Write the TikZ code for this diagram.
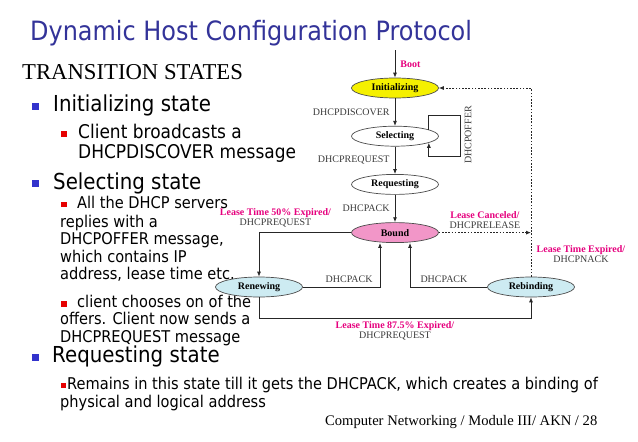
\documentclass[tikz,border=0pt]{standalone}
\usepackage{fontspec}
\setmainfont{Liberation Serif}
\newfontfamily\slidefont[FakeStretch=0.9]{DejaVu Sans}
\usetikzlibrary{shapes.geometric, arrows.meta, positioning, calc}
\definecolor{titleblue}{RGB}{51,51,153}
\definecolor{bulletblue}{RGB}{51,51,204}
\definecolor{bulletred}{RGB}{230,0,0}
\definecolor{leasepink}{RGB}{230,0,126}
\definecolor{initfill}{RGB}{245,240,0}
\definecolor{boundfill}{RGB}{242,150,200}
\definecolor{renewfill}{RGB}{205,235,242}
\definecolor{msggray}{RGB}{60,60,60}
\newcommand{\leasetxt}[1]{{\color{leasepink}\bfseries #1}}
\tikzset{
  state/.style   = {ellipse, draw=black!70, line width=0.7pt,
                    minimum width=87pt, minimum height=20pt, inner sep=0pt,
                    font=\fontsize{10}{10}\selectfont\bfseries},
  msg/.style     = {inner sep=0pt, text=msggray, font=\fontsize{10}{10}\selectfont},
  evt/.style     = {msg, align=center},
  arrow/.style   = {-{Latex[length=5pt,width=4pt]}, line width=0.8pt, draw=black!85},
  darrow/.style  = {arrow, dash pattern=on 1.6pt off 1.6pt},
  head/.style    = {anchor=base west, inner sep=0pt, font=\slidefont\fontsize{22}{26}\selectfont},
  body/.style    = {anchor=base west, inner sep=0pt, font=\slidefont\fontsize{18.9}{22}\selectfont},
  sbody/.style   = {body, font=\slidefont\fontsize{16.2}{19}\selectfont},
  bbullet/.style = {rectangle, fill=bulletblue, minimum size=7pt, inner sep=0pt},
  rbullet/.style = {rectangle, fill=bulletred, minimum size=5.5pt, inner sep=0pt},
}

\begin{document}
\begin{tikzpicture}[x=1pt, y=-1pt, node distance=27.5pt]
  \useasboundingbox[fill=white] (0,0) rectangle (638,442);

  % title and heading
  \node[anchor=base west, inner sep=0pt, text=titleblue,
        font=\slidefont\fontsize{26.6}{32}\selectfont] (title) at (30,40)
        {Dynamic Host Configuration Protocol};
  \node[anchor=base west, inner sep=0pt, font=\fontsize{22.7}{26}\selectfont]
        (trans) at (22,79) {TRANSITION STATES};

  % bullet list
  \node[bbullet] (b-init) at (35.5,106) {};
  \node[head] (h-init) at (53,111) {Initializing state};
  \node[rbullet] (r-bcast) at (64,134) {};
  \node[body] (t-bcast) at (78,138) {Client broadcasts a};
  \node[body] (t-disc) at (78,158) {DHCPDISCOVER message};

  \node[bbullet] (b-sel) at (35.5,183.5) {};
  \node[head] (h-sel) at (53,189) {Selecting state};
  \node[rbullet] (r-all) at (64,204.5) {};
  \node[sbody] (t-all) at (77,208) {All the DHCP servers};
  \foreach \y/\t in {227/replies with a, 244/{DHCPOFFER message,},
                     262/which contains IP, 279/{address, lease time etc.}}
    \node[sbody] (t-\y) at (60,\y) {\t};
  \node[rbullet] (r-choose) at (64,304) {};
  \node[sbody] (t-choose) at (77,307) {client chooses on of the};
  \node[sbody] (t-offers) at (60,324) {offers. Client now sends a};
  \node[sbody] (t-reqmsg) at (60,342) {DHCPREQUEST message};

  \node[bbullet] (b-req) at (35,357) {};
  \node[head] (h-req) at (52,362) {Requesting state};
  \node[rbullet, minimum size=5pt] (r-remain) at (63.5,385.5) {};
  \node[sbody] (t-remain) at (67,389)
        {Remains in this state till it gets the DHCPACK, which creates a binding of};
  \node[sbody] (t-phys) at (60,407) {physical and logical address};

  \node[anchor=base west, inner sep=0pt, font=\fontsize{14.6}{16}\selectfont]
        (footer) at (325,425) {Computer Networking / Module III/ AKN / 28};

  % states
  \node[state, fill=initfill] (init) at (395,88) {Initializing};
  \node[state, below=of init] (sel) {Selecting};
  \node[state, below=of sel] (req) {Requesting};
  \node[state, fill=boundfill, below=of req] (bound) {Bound};
  \node[state, fill=renewfill] (renew) at (259,287) {Renewing};
  \node[state, fill=renewfill] (rebind) at (531,287) {Rebinding};

  % transitions
  \coordinate (boot) at (395,50);
  \draw[arrow] (boot) -- node[msg, right=5pt, text=leasepink, font=\fontsize{10}{10}\selectfont\bfseries] (boot-l) {Boot} (init);
  \draw[arrow] (init) -- node[msg, left=5pt] (disc-l) {DHCPDISCOVER} (sel);
  \draw[arrow] (sel) -- node[msg, left=5pt] (req-l) {DHCPREQUEST} (req);
  \draw[arrow] (req) -- node[msg, left=5pt] (ack-l) {DHCPACK} (bound);

  \coordinate (offer-a) at (460,115);
  \coordinate (offer-b) at (460,156);
  \draw[arrow] (sel.11) |- (offer-a) -- (offer-b) -| (sel.-11);
  \node[msg, rotate=90] (offer-l) at (468,135) {DHCPOFFER};

  \draw[arrow] (bound) -| (renew);
  \node[evt] (renew-l) at (275.5,218)
        {\leasetxt{Lease Time 50\% Expired/}\\DHCPREQUEST};
  \draw[arrow] (renew) -| node[msg, pos=0.3, above=4pt] (ack-r) {DHCPACK}
        ([xshift=-15pt]bound.south);
  \draw[arrow] (rebind) -| node[msg, pos=0.28, above=4pt] (ack-b) {DHCPACK}
        ([xshift=15pt]bound.south);
  \draw[arrow] (renew.south) -- ++(0,21) -| node[evt, pos=0.25, below=3pt] (rebind-l)
        {\leasetxt{Lease Time 87.5\% Expired/}\\DHCPREQUEST} (rebind);

  \draw[darrow] (rebind) |- (init);
  \coordinate (cancel) at (bound.east -| rebind.north);
  \draw[darrow] (bound) -- node[evt, above=4pt] (cancel-l)
        {\leasetxt{Lease Canceled/}\\DHCPRELEASE} (cancel);
  \node[evt] (nack-l) at (581,254) {\leasetxt{Lease Time Expired/}\\DHCPNACK};
\end{tikzpicture}
\end{document}
